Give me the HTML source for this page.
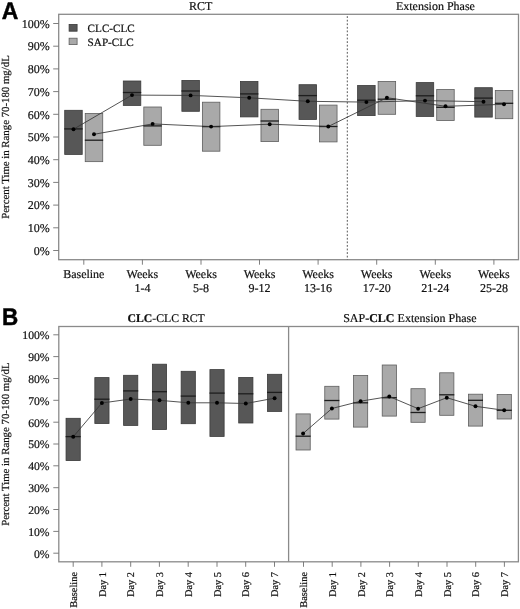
<!DOCTYPE html>
<html><head><meta charset="utf-8"><title>Percent Time in Range</title><style>
html,body{margin:0;padding:0;background:#fff;}
body{width:520px;height:609px;overflow:hidden;}
svg{display:block;text-rendering:geometricPrecision;}
text{font-family:"Liberation Serif","Times New Roman",serif;fill:#111;stroke:#111;stroke-width:0.2px;}
.yl{font-size:12px;}
.ylb{font-size:11.7px;}
.xl{font-size:12px;}
.xlb{font-size:10.4px;}
.lg{font-size:11.2px;}
.tt{font-size:12px;}
.tb{font-size:11.9px;}
.yt{font-size:10.8px;}
.pl{font-family:"Liberation Sans",Arial,sans-serif;font-weight:bold;font-size:22.5px;fill:#000;stroke:#000;stroke-width:0.45px;}
</style></head>
<body>
<svg width="520" height="609" viewBox="0 0 520 609">
<rect x="0" y="0" width="520" height="609" fill="#fff"/>
<rect x="58.7" y="14.3" width="459.8" height="245.4" fill="none" stroke="#8a8a8a" stroke-width="1.3"/>
<line x1="347.3" y1="14.3" x2="347.3" y2="259.7" stroke="#555" stroke-width="1" stroke-dasharray="1.8,1.775" stroke-dashoffset="1.695"/>
<line x1="53.2" y1="23.5" x2="58.7" y2="23.5" stroke="#707070" stroke-width="0.9"/>
<text x="49.8" y="27.7" class="yl" text-anchor="end">100%</text>
<line x1="53.2" y1="46.2" x2="58.7" y2="46.2" stroke="#707070" stroke-width="0.9"/>
<text x="49.8" y="50.4" class="yl" text-anchor="end">90%</text>
<line x1="53.2" y1="68.9" x2="58.7" y2="68.9" stroke="#707070" stroke-width="0.9"/>
<text x="49.8" y="73.1" class="yl" text-anchor="end">80%</text>
<line x1="53.2" y1="91.6" x2="58.7" y2="91.6" stroke="#707070" stroke-width="0.9"/>
<text x="49.8" y="95.8" class="yl" text-anchor="end">70%</text>
<line x1="53.2" y1="114.3" x2="58.7" y2="114.3" stroke="#707070" stroke-width="0.9"/>
<text x="49.8" y="118.5" class="yl" text-anchor="end">60%</text>
<line x1="53.2" y1="137.0" x2="58.7" y2="137.0" stroke="#707070" stroke-width="0.9"/>
<text x="49.8" y="141.2" class="yl" text-anchor="end">50%</text>
<line x1="53.2" y1="159.7" x2="58.7" y2="159.7" stroke="#707070" stroke-width="0.9"/>
<text x="49.8" y="163.9" class="yl" text-anchor="end">40%</text>
<line x1="53.2" y1="182.4" x2="58.7" y2="182.4" stroke="#707070" stroke-width="0.9"/>
<text x="49.8" y="186.6" class="yl" text-anchor="end">30%</text>
<line x1="53.2" y1="205.1" x2="58.7" y2="205.1" stroke="#707070" stroke-width="0.9"/>
<text x="49.8" y="209.3" class="yl" text-anchor="end">20%</text>
<line x1="53.2" y1="227.8" x2="58.7" y2="227.8" stroke="#707070" stroke-width="0.9"/>
<text x="49.8" y="232.0" class="yl" text-anchor="end">10%</text>
<line x1="53.2" y1="250.5" x2="58.7" y2="250.5" stroke="#707070" stroke-width="0.9"/>
<text x="49.8" y="254.7" class="yl" text-anchor="end">0%</text>
<line x1="83.8" y1="259.7" x2="83.8" y2="264.7" stroke="#707070" stroke-width="0.9"/>
<text x="83.8" y="277.7" class="xl" text-anchor="middle">Baseline</text>
<line x1="142.4" y1="259.7" x2="142.4" y2="264.7" stroke="#707070" stroke-width="0.9"/>
<text x="142.4" y="277.7" class="xl" text-anchor="middle">Weeks</text>
<text x="142.4" y="292.0" class="xl" text-anchor="middle">1-4</text>
<line x1="201.0" y1="259.7" x2="201.0" y2="264.7" stroke="#707070" stroke-width="0.9"/>
<text x="201.0" y="277.7" class="xl" text-anchor="middle">Weeks</text>
<text x="201.0" y="292.0" class="xl" text-anchor="middle">5-8</text>
<line x1="259.5" y1="259.7" x2="259.5" y2="264.7" stroke="#707070" stroke-width="0.9"/>
<text x="259.5" y="277.7" class="xl" text-anchor="middle">Weeks</text>
<text x="259.5" y="292.0" class="xl" text-anchor="middle">9-12</text>
<line x1="318.1" y1="259.7" x2="318.1" y2="264.7" stroke="#707070" stroke-width="0.9"/>
<text x="318.1" y="277.7" class="xl" text-anchor="middle">Weeks</text>
<text x="318.1" y="292.0" class="xl" text-anchor="middle">13-16</text>
<line x1="376.7" y1="259.7" x2="376.7" y2="264.7" stroke="#707070" stroke-width="0.9"/>
<text x="376.7" y="277.7" class="xl" text-anchor="middle">Weeks</text>
<text x="376.7" y="292.0" class="xl" text-anchor="middle">17-20</text>
<line x1="435.3" y1="259.7" x2="435.3" y2="264.7" stroke="#707070" stroke-width="0.9"/>
<text x="435.3" y="277.7" class="xl" text-anchor="middle">Weeks</text>
<text x="435.3" y="292.0" class="xl" text-anchor="middle">21-24</text>
<line x1="493.9" y1="259.7" x2="493.9" y2="264.7" stroke="#707070" stroke-width="0.9"/>
<text x="493.9" y="277.7" class="xl" text-anchor="middle">Weeks</text>
<text x="493.9" y="292.0" class="xl" text-anchor="middle">25-28</text>
<rect x="64.72" y="110.30" width="17.50" height="44.10" fill="#575757" stroke="#3a3a3a" stroke-width="0.8"/>
<line x1="64.32" y1="128.90" x2="82.62" y2="128.90" stroke="#1e1e1e" stroke-width="1.3"/>
<rect x="85.23" y="113.50" width="17.50" height="48.15" fill="#a9a9a9" stroke="#5e5e5e" stroke-width="0.8"/>
<line x1="84.83" y1="140.20" x2="103.13" y2="140.20" stroke="#1e1e1e" stroke-width="1.3"/>
<rect x="123.30" y="81.00" width="17.50" height="24.40" fill="#575757" stroke="#3a3a3a" stroke-width="0.8"/>
<line x1="122.90" y1="92.50" x2="141.20" y2="92.50" stroke="#1e1e1e" stroke-width="1.3"/>
<rect x="143.81" y="107.00" width="17.50" height="38.30" fill="#a9a9a9" stroke="#5e5e5e" stroke-width="0.8"/>
<line x1="143.41" y1="125.90" x2="161.71" y2="125.90" stroke="#1e1e1e" stroke-width="1.3"/>
<rect x="181.88" y="80.40" width="17.50" height="30.90" fill="#575757" stroke="#3a3a3a" stroke-width="0.8"/>
<line x1="181.48" y1="91.00" x2="199.78" y2="91.00" stroke="#1e1e1e" stroke-width="1.3"/>
<rect x="202.39" y="102.20" width="17.50" height="49.00" fill="#a9a9a9" stroke="#5e5e5e" stroke-width="0.8"/>
<line x1="201.99" y1="126.60" x2="220.29" y2="126.60" stroke="#1e1e1e" stroke-width="1.3"/>
<rect x="240.46" y="81.50" width="17.50" height="35.40" fill="#575757" stroke="#3a3a3a" stroke-width="0.8"/>
<line x1="240.06" y1="93.90" x2="258.36" y2="93.90" stroke="#1e1e1e" stroke-width="1.3"/>
<rect x="260.97" y="109.30" width="17.50" height="32.30" fill="#a9a9a9" stroke="#5e5e5e" stroke-width="0.8"/>
<line x1="260.57" y1="121.00" x2="278.87" y2="121.00" stroke="#1e1e1e" stroke-width="1.3"/>
<rect x="299.04" y="84.70" width="17.50" height="34.70" fill="#575757" stroke="#3a3a3a" stroke-width="0.8"/>
<line x1="298.64" y1="95.60" x2="316.94" y2="95.60" stroke="#1e1e1e" stroke-width="1.3"/>
<rect x="319.55" y="105.10" width="17.50" height="36.80" fill="#a9a9a9" stroke="#5e5e5e" stroke-width="0.8"/>
<line x1="319.15" y1="126.50" x2="337.45" y2="126.50" stroke="#1e1e1e" stroke-width="1.3"/>
<rect x="357.62" y="85.50" width="17.50" height="30.10" fill="#575757" stroke="#3a3a3a" stroke-width="0.8"/>
<line x1="357.22" y1="100.20" x2="375.52" y2="100.20" stroke="#1e1e1e" stroke-width="1.3"/>
<rect x="378.13" y="81.50" width="17.50" height="32.80" fill="#a9a9a9" stroke="#5e5e5e" stroke-width="0.8"/>
<line x1="377.73" y1="99.20" x2="396.03" y2="99.20" stroke="#1e1e1e" stroke-width="1.3"/>
<rect x="416.20" y="82.60" width="17.50" height="33.80" fill="#575757" stroke="#3a3a3a" stroke-width="0.8"/>
<line x1="415.80" y1="95.80" x2="434.10" y2="95.80" stroke="#1e1e1e" stroke-width="1.3"/>
<rect x="436.71" y="89.50" width="17.50" height="31.00" fill="#a9a9a9" stroke="#5e5e5e" stroke-width="0.8"/>
<line x1="436.31" y1="107.30" x2="454.61" y2="107.30" stroke="#1e1e1e" stroke-width="1.3"/>
<rect x="474.78" y="87.70" width="17.50" height="29.40" fill="#575757" stroke="#3a3a3a" stroke-width="0.8"/>
<line x1="474.38" y1="98.10" x2="492.68" y2="98.10" stroke="#1e1e1e" stroke-width="1.3"/>
<rect x="495.29" y="90.40" width="17.50" height="28.30" fill="#a9a9a9" stroke="#5e5e5e" stroke-width="0.8"/>
<line x1="494.89" y1="103.30" x2="513.19" y2="103.30" stroke="#1e1e1e" stroke-width="1.3"/>
<polyline points="73.5,129.2 132.0,95.1 190.6,95.4 249.2,97.8 307.8,101.3 366.4,102.1 425.0,100.6 483.5,101.7" fill="none" stroke="#353535" stroke-width="0.85"/>
<polyline points="94.0,134.3 152.6,123.9 211.1,126.6 269.7,124.2 328.3,126.5 386.9,97.7 445.5,106.3 504.0,104.3" fill="none" stroke="#353535" stroke-width="0.85"/>
<circle cx="73.5" cy="129.2" r="1.95" fill="#000"/>
<circle cx="132.0" cy="95.1" r="1.95" fill="#000"/>
<circle cx="190.6" cy="95.4" r="1.95" fill="#000"/>
<circle cx="249.2" cy="97.8" r="1.95" fill="#000"/>
<circle cx="307.8" cy="101.3" r="1.95" fill="#000"/>
<circle cx="366.4" cy="102.1" r="1.95" fill="#000"/>
<circle cx="425.0" cy="100.6" r="1.95" fill="#000"/>
<circle cx="483.5" cy="101.7" r="1.95" fill="#000"/>
<circle cx="94.0" cy="134.3" r="1.95" fill="#000"/>
<circle cx="152.6" cy="123.9" r="1.95" fill="#000"/>
<circle cx="211.1" cy="126.6" r="1.95" fill="#000"/>
<circle cx="269.7" cy="124.2" r="1.95" fill="#000"/>
<circle cx="328.3" cy="126.5" r="1.95" fill="#000"/>
<circle cx="386.9" cy="97.7" r="1.95" fill="#000"/>
<circle cx="445.5" cy="106.3" r="1.95" fill="#000"/>
<circle cx="504.0" cy="104.3" r="1.95" fill="#000"/>
<rect x="69.1" y="24.4" width="8.0" height="6.8" fill="#575757" stroke="#3a3a3a" stroke-width="0.8"/>
<rect x="69.1" y="38.2" width="8.0" height="6.4" fill="#a9a9a9" stroke="#5e5e5e" stroke-width="0.8"/>
<text x="87.6" y="31.9" class="lg">CLC-CLC</text>
<text x="87.6" y="45.6" class="lg">SAP-CLC</text>
<text x="200.7" y="9.6" class="tt" text-anchor="middle">RCT</text>
<text x="435.4" y="9.6" class="tt" text-anchor="middle">Extension Phase</text>
<text transform="translate(1.7,18.7) scale(1.02,1.07)" class="pl">A</text>
<text transform="translate(8.9,137.0) rotate(-90)" class="yt" text-anchor="middle">Percent Time in Range 70-180 mg/dL</text>
<rect x="58.8" y="326.5" width="459.6" height="235.3" fill="none" stroke="#8a8a8a" stroke-width="1.3"/>
<line x1="288.6" y1="326.5" x2="288.6" y2="561.8" stroke="#8a8a8a" stroke-width="1.3"/>
<line x1="53.3" y1="334.8" x2="58.8" y2="334.8" stroke="#707070" stroke-width="0.9"/>
<text x="49.6" y="339.2" class="ylb" text-anchor="end">100%</text>
<line x1="53.3" y1="356.6" x2="58.8" y2="356.6" stroke="#707070" stroke-width="0.9"/>
<text x="49.6" y="361.0" class="ylb" text-anchor="end">90%</text>
<line x1="53.3" y1="378.5" x2="58.8" y2="378.5" stroke="#707070" stroke-width="0.9"/>
<text x="49.6" y="382.9" class="ylb" text-anchor="end">80%</text>
<line x1="53.3" y1="400.3" x2="58.8" y2="400.3" stroke="#707070" stroke-width="0.9"/>
<text x="49.6" y="404.7" class="ylb" text-anchor="end">70%</text>
<line x1="53.3" y1="422.2" x2="58.8" y2="422.2" stroke="#707070" stroke-width="0.9"/>
<text x="49.6" y="426.6" class="ylb" text-anchor="end">60%</text>
<line x1="53.3" y1="444.0" x2="58.8" y2="444.0" stroke="#707070" stroke-width="0.9"/>
<text x="49.6" y="448.4" class="ylb" text-anchor="end">50%</text>
<line x1="53.3" y1="465.8" x2="58.8" y2="465.8" stroke="#707070" stroke-width="0.9"/>
<text x="49.6" y="470.2" class="ylb" text-anchor="end">40%</text>
<line x1="53.3" y1="487.7" x2="58.8" y2="487.7" stroke="#707070" stroke-width="0.9"/>
<text x="49.6" y="492.1" class="ylb" text-anchor="end">30%</text>
<line x1="53.3" y1="509.5" x2="58.8" y2="509.5" stroke="#707070" stroke-width="0.9"/>
<text x="49.6" y="513.9" class="ylb" text-anchor="end">20%</text>
<line x1="53.3" y1="531.4" x2="58.8" y2="531.4" stroke="#707070" stroke-width="0.9"/>
<text x="49.6" y="535.8" class="ylb" text-anchor="end">10%</text>
<line x1="53.3" y1="553.2" x2="58.8" y2="553.2" stroke="#707070" stroke-width="0.9"/>
<text x="49.6" y="557.6" class="ylb" text-anchor="end">0%</text>
<line x1="73.2" y1="561.8" x2="73.2" y2="566.8" stroke="#707070" stroke-width="0.9"/>
<text transform="translate(76.8,572.0) rotate(-90)" class="xlb" text-anchor="end">Baseline</text>
<line x1="101.9" y1="561.8" x2="101.9" y2="566.8" stroke="#707070" stroke-width="0.9"/>
<text transform="translate(105.5,572.0) rotate(-90)" class="xlb" text-anchor="end">Day 1</text>
<line x1="130.7" y1="561.8" x2="130.7" y2="566.8" stroke="#707070" stroke-width="0.9"/>
<text transform="translate(134.3,572.0) rotate(-90)" class="xlb" text-anchor="end">Day 2</text>
<line x1="159.4" y1="561.8" x2="159.4" y2="566.8" stroke="#707070" stroke-width="0.9"/>
<text transform="translate(163.0,572.0) rotate(-90)" class="xlb" text-anchor="end">Day 3</text>
<line x1="188.2" y1="561.8" x2="188.2" y2="566.8" stroke="#707070" stroke-width="0.9"/>
<text transform="translate(191.8,572.0) rotate(-90)" class="xlb" text-anchor="end">Day 4</text>
<line x1="217.0" y1="561.8" x2="217.0" y2="566.8" stroke="#707070" stroke-width="0.9"/>
<text transform="translate(220.6,572.0) rotate(-90)" class="xlb" text-anchor="end">Day 5</text>
<line x1="245.7" y1="561.8" x2="245.7" y2="566.8" stroke="#707070" stroke-width="0.9"/>
<text transform="translate(249.3,572.0) rotate(-90)" class="xlb" text-anchor="end">Day 6</text>
<line x1="274.5" y1="561.8" x2="274.5" y2="566.8" stroke="#707070" stroke-width="0.9"/>
<text transform="translate(278.1,572.0) rotate(-90)" class="xlb" text-anchor="end">Day 7</text>
<line x1="303.5" y1="561.8" x2="303.5" y2="566.8" stroke="#707070" stroke-width="0.9"/>
<text transform="translate(307.1,572.0) rotate(-90)" class="xlb" text-anchor="end">Baseline</text>
<line x1="332.2" y1="561.8" x2="332.2" y2="566.8" stroke="#707070" stroke-width="0.9"/>
<text transform="translate(335.8,572.0) rotate(-90)" class="xlb" text-anchor="end">Day 1</text>
<line x1="360.9" y1="561.8" x2="360.9" y2="566.8" stroke="#707070" stroke-width="0.9"/>
<text transform="translate(364.5,572.0) rotate(-90)" class="xlb" text-anchor="end">Day 2</text>
<line x1="389.6" y1="561.8" x2="389.6" y2="566.8" stroke="#707070" stroke-width="0.9"/>
<text transform="translate(393.2,572.0) rotate(-90)" class="xlb" text-anchor="end">Day 3</text>
<line x1="418.3" y1="561.8" x2="418.3" y2="566.8" stroke="#707070" stroke-width="0.9"/>
<text transform="translate(421.9,572.0) rotate(-90)" class="xlb" text-anchor="end">Day 4</text>
<line x1="447.0" y1="561.8" x2="447.0" y2="566.8" stroke="#707070" stroke-width="0.9"/>
<text transform="translate(450.6,572.0) rotate(-90)" class="xlb" text-anchor="end">Day 5</text>
<line x1="475.7" y1="561.8" x2="475.7" y2="566.8" stroke="#707070" stroke-width="0.9"/>
<text transform="translate(479.3,572.0) rotate(-90)" class="xlb" text-anchor="end">Day 6</text>
<line x1="504.4" y1="561.8" x2="504.4" y2="566.8" stroke="#707070" stroke-width="0.9"/>
<text transform="translate(508.0,572.0) rotate(-90)" class="xlb" text-anchor="end">Day 7</text>
<rect x="66.05" y="418.30" width="14.20" height="42.30" fill="#575757" stroke="#3a3a3a" stroke-width="0.8"/>
<line x1="65.65" y1="436.60" x2="80.65" y2="436.60" stroke="#1e1e1e" stroke-width="1.3"/>
<rect x="94.83" y="377.60" width="14.20" height="45.90" fill="#575757" stroke="#3a3a3a" stroke-width="0.8"/>
<line x1="94.43" y1="399.20" x2="109.43" y2="399.20" stroke="#1e1e1e" stroke-width="1.3"/>
<rect x="123.60" y="375.30" width="14.20" height="50.10" fill="#575757" stroke="#3a3a3a" stroke-width="0.8"/>
<line x1="123.20" y1="390.90" x2="138.20" y2="390.90" stroke="#1e1e1e" stroke-width="1.3"/>
<rect x="152.38" y="364.20" width="14.20" height="65.30" fill="#575757" stroke="#3a3a3a" stroke-width="0.8"/>
<line x1="151.98" y1="391.70" x2="166.98" y2="391.70" stroke="#1e1e1e" stroke-width="1.3"/>
<rect x="181.15" y="371.30" width="14.20" height="52.40" fill="#575757" stroke="#3a3a3a" stroke-width="0.8"/>
<line x1="180.75" y1="396.10" x2="195.75" y2="396.10" stroke="#1e1e1e" stroke-width="1.3"/>
<rect x="209.93" y="369.60" width="14.20" height="66.80" fill="#575757" stroke="#3a3a3a" stroke-width="0.8"/>
<line x1="209.53" y1="393.10" x2="224.53" y2="393.10" stroke="#1e1e1e" stroke-width="1.3"/>
<rect x="238.71" y="377.50" width="14.20" height="45.50" fill="#575757" stroke="#3a3a3a" stroke-width="0.8"/>
<line x1="238.31" y1="393.80" x2="253.31" y2="393.80" stroke="#1e1e1e" stroke-width="1.3"/>
<rect x="267.48" y="374.30" width="14.20" height="37.10" fill="#575757" stroke="#3a3a3a" stroke-width="0.8"/>
<line x1="267.08" y1="392.40" x2="282.08" y2="392.40" stroke="#1e1e1e" stroke-width="1.3"/>
<polyline points="73.2,436.8 101.9,403.0 130.7,399.0 159.5,400.3 188.3,402.8 217.0,402.8 245.8,403.5 274.6,398.2" fill="none" stroke="#353535" stroke-width="0.85"/>
<circle cx="73.2" cy="436.8" r="1.95" fill="#000"/>
<circle cx="101.9" cy="403.0" r="1.95" fill="#000"/>
<circle cx="130.7" cy="399.0" r="1.95" fill="#000"/>
<circle cx="159.5" cy="400.3" r="1.95" fill="#000"/>
<circle cx="188.3" cy="402.8" r="1.95" fill="#000"/>
<circle cx="217.0" cy="402.8" r="1.95" fill="#000"/>
<circle cx="245.8" cy="403.5" r="1.95" fill="#000"/>
<circle cx="274.6" cy="398.2" r="1.95" fill="#000"/>
<rect x="296.03" y="413.90" width="14.20" height="36.10" fill="#a9a9a9" stroke="#5e5e5e" stroke-width="0.8"/>
<line x1="295.63" y1="436.20" x2="310.63" y2="436.20" stroke="#1e1e1e" stroke-width="1.3"/>
<rect x="324.76" y="386.30" width="14.20" height="32.80" fill="#a9a9a9" stroke="#5e5e5e" stroke-width="0.8"/>
<line x1="324.36" y1="400.50" x2="339.36" y2="400.50" stroke="#1e1e1e" stroke-width="1.3"/>
<rect x="353.49" y="375.40" width="14.20" height="51.70" fill="#a9a9a9" stroke="#5e5e5e" stroke-width="0.8"/>
<line x1="353.09" y1="402.80" x2="368.09" y2="402.80" stroke="#1e1e1e" stroke-width="1.3"/>
<rect x="382.22" y="365.00" width="14.20" height="51.10" fill="#a9a9a9" stroke="#5e5e5e" stroke-width="0.8"/>
<line x1="381.82" y1="397.70" x2="396.82" y2="397.70" stroke="#1e1e1e" stroke-width="1.3"/>
<rect x="410.95" y="388.70" width="14.20" height="33.60" fill="#a9a9a9" stroke="#5e5e5e" stroke-width="0.8"/>
<line x1="410.55" y1="412.50" x2="425.55" y2="412.50" stroke="#1e1e1e" stroke-width="1.3"/>
<rect x="439.68" y="372.80" width="14.20" height="42.50" fill="#a9a9a9" stroke="#5e5e5e" stroke-width="0.8"/>
<line x1="439.28" y1="394.80" x2="454.28" y2="394.80" stroke="#1e1e1e" stroke-width="1.3"/>
<rect x="468.42" y="394.20" width="14.20" height="31.90" fill="#a9a9a9" stroke="#5e5e5e" stroke-width="0.8"/>
<line x1="468.02" y1="400.30" x2="483.02" y2="400.30" stroke="#1e1e1e" stroke-width="1.3"/>
<rect x="497.15" y="394.50" width="14.20" height="24.50" fill="#a9a9a9" stroke="#5e5e5e" stroke-width="0.8"/>
<line x1="496.75" y1="410.30" x2="511.75" y2="410.30" stroke="#1e1e1e" stroke-width="1.3"/>
<polyline points="303.1,433.5 331.9,408.5 360.6,401.2 389.3,396.5 418.1,408.7 446.8,397.7 475.5,406.3 504.2,410.3" fill="none" stroke="#353535" stroke-width="0.85"/>
<circle cx="303.1" cy="433.5" r="1.95" fill="#000"/>
<circle cx="331.9" cy="408.5" r="1.95" fill="#000"/>
<circle cx="360.6" cy="401.2" r="1.95" fill="#000"/>
<circle cx="389.3" cy="396.5" r="1.95" fill="#000"/>
<circle cx="418.1" cy="408.7" r="1.95" fill="#000"/>
<circle cx="446.8" cy="397.7" r="1.95" fill="#000"/>
<circle cx="475.5" cy="406.3" r="1.95" fill="#000"/>
<circle cx="504.2" cy="410.3" r="1.95" fill="#000"/>
<text x="127.4" y="321.8" class="tb" style="font-size:11.75px"><tspan font-weight="bold">CLC-</tspan>CLC RCT</text>
<text x="343.2" y="321.8" class="tb" style="font-size:12px">SAP<tspan font-weight="bold">-CLC</tspan> Extension Phase</text>
<text transform="translate(2.0,325.4) scale(1.0,1.07)" class="pl">B</text>
<text transform="translate(8.9,444.15) rotate(-90)" class="yt" text-anchor="middle">Percent Time in Range 70-180 mg/dL</text>
</svg>
</body></html>
